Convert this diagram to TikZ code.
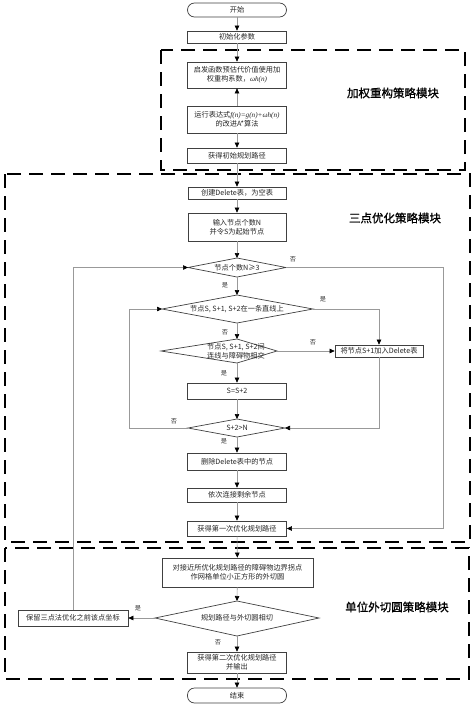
\documentclass[tikz,border=0pt]{standalone}
\usepackage{fontspec}
\setmainfont{Noto Sans CJK SC}
\newfontfamily\lserif{Liberation Serif}
\newfontfamily\modfont[FakeBold=1]{Noto Sans CJK SC}
\usetikzlibrary{arrows.meta}
\begin{document}
\begin{tikzpicture}[x=1pt,y=-1pt,
  box/.style={draw=black!75, line width=0.7pt, fill=white, text=black!85,
    font=\fontsize{7.2}{9}\selectfont, inner sep=0pt, align=center},
  term/.style={box, rounded corners=7pt},
  txt/.style={text=black!85, font=\fontsize{7.2}{9}\selectfont, inner sep=0pt, align=center},
  con/.style={draw=black!40, line width=0.6pt},
  arr/.style={con, -{Triangle[length=5pt,width=4.5pt,color=black]}},
  module/.style={draw=black, line width=2.4pt, dash pattern=on 14pt off 8pt},
  modlabel/.style={font=\modfont\fontsize{11.5}{13}\selectfont, text=black, inner sep=0pt},
  yn/.style={font=\fontsize{6.2}{7}\selectfont, text=black!80, inner sep=0pt},
  dia/.style={draw=black!75, line width=0.7pt, fill=white}
]
\useasboundingbox (0,0) rectangle (474,707);

% module frames
\draw[module] (161,50) rectangle (465,170);
\draw[module] (5,174) rectangle (470,542);
\draw[module] (5,548) rectangle (469,679);
\node[modlabel] (lab1) at (393,93) {加权重构策略模块};
\node[modlabel] (lab2) at (395,218) {三点优化策略模块};
\node[modlabel] (lab3) at (397,607) {单位外切圆策略模块};

% diamond vertices
\coordinate (d1l) at (188,267.5); \coordinate (d1t) at (237,258); \coordinate (d1r) at (286,267.5); \coordinate (d1b) at (237,277);
\coordinate (d2l) at (162,309); \coordinate (d2t) at (237,295); \coordinate (d2r) at (313,309); \coordinate (d2b) at (237,323);
\coordinate (d3l) at (161,351); \coordinate (d3t) at (237,339); \coordinate (d3r) at (277,351); \coordinate (d3b) at (237,363);
\coordinate (d4l) at (188,428); \coordinate (d4t) at (237,419); \coordinate (d4r) at (285,428); \coordinate (d4b) at (237,437);
\coordinate (d5l) at (155,618); \coordinate (d5t) at (237,601); \coordinate (d5r) at (319,618); \coordinate (d5b) at (237,636);

% nodes
\node[term, minimum width=99pt, minimum height=14pt] (start) at (237,10) {开始};
\node[box, minimum width=99pt, minimum height=12pt] (init) at (237,37) {初始化参数};
\node[box, minimum width=99pt, minimum height=26pt] (b1) at (237,75) {启发函数预估代价值使用加\\权重构系数，{\lserif\itshape ωh(n)}};
\node[box, minimum width=99pt, minimum height=27pt] (b2) at (237,119.5) {运行表达式{\lserif\itshape f(n)=g(n)+ωh(n)}\\的改进A*算法};
\node[box, minimum width=99pt, minimum height=15pt] (b3) at (237,155.5) {获得初始规划路径};

\node[box, minimum width=98pt, minimum height=12pt] (c1) at (237,193) {创建Delete表，为空表};
\node[box, minimum width=98pt, minimum height=28pt] (c2) at (237,227) {输入节点个数N\\并令S为起始节点};

\draw[dia] (d1l) -- (d1t) -- (d1r) -- (d1b) -- cycle;
\node[txt] (d1) at (237,267.5) {节点个数N≥3};
\draw[dia] (d2l) -- (d2t) -- (d2r) -- (d2b) -- cycle;
\node[txt] (d2) at (237,309) {节点S, S+1, S+2在一条直线上};
\draw[dia] (d3l) -- (d3t) -- (d3r) -- (d3b) -- cycle;
\node[txt] (d3) at (236,351) {节点S, S+1, S+2间\\连线与障碍物相交};

\node[box, minimum width=88pt, minimum height=12pt] (cdel) at (379,351) {将节点S+1加入Delete表};
\node[box, minimum width=99pt, minimum height=16pt] (c3) at (237,391) {S=S+2};
\draw[dia] (d4l) -- (d4t) -- (d4r) -- (d4b) -- cycle;
\node[txt] (d4) at (237,428) {S+2>N};
\node[box, minimum width=99pt, minimum height=17pt] (c4) at (237,461.5) {删除Delete表中的节点};
\node[box, minimum width=99pt, minimum height=14pt] (c5) at (237,495) {依次连接剩余节点};
\node[box, minimum width=99pt, minimum height=15pt] (c6) at (237,528.5) {获得第一次优化规划路径};

\node[box, minimum width=151pt, minimum height=29pt] (e1) at (237.5,572.5) {对接近所优化规划路径的障碍物边界拐点\\作网格单位小正方形的外切圆};
\draw[dia] (d5l) -- (d5t) -- (d5r) -- (d5b) -- cycle;
\node[txt] (d5) at (237,618) {规划路径与外切圆相切};
\node[box, minimum width=110pt, minimum height=16pt] (e2) at (73,618) {保留三点法优化之前该点坐标};
\node[box, minimum width=99pt, minimum height=21pt] (e3) at (237,662.5) {获得第二次优化规划路径\\并输出};
\node[term, minimum width=99pt, minimum height=15pt] (end) at (237,695.5) {结束};

% connectors
\draw[arr] (start) -- (init);
\draw[arr] (init) -- (b1);
\draw[arr] (b2) -- (b1);
\draw[arr] (b2) -- (b3);
\draw[arr] (b3) -- (c1);
\draw[arr] (c1) -- (c2);
\draw[arr] (c2) -- (d1t);
\draw[arr] (d1b) -- (d2t);
\draw[arr] (d2b) -- (d3t);
\draw[arr] (d3b) -- (c3);
\draw[arr] (c3) -- (d4t);
\draw[arr] (d4b) -- (c4);
\draw[arr] (c4) -- (c5);
\draw[arr] (c5) -- (c6);
\draw[arr] (c6) -- (e1);
\draw[arr] (e1) -- (d5t);
\draw[arr] (d5b) -- (e3);
\draw[arr] (e3) -- (end);

\draw[arr] (d1r) -- ++(157,0) |- (c6.east);
\draw[arr] (d2r) -| (cdel.north);
\draw[arr] (d3r) -- (cdel.west);
\draw[arr] (cdel.south) |- (d4r);
\draw[arr] (d4l) -- ++(-59,0) |- (d2l);
\draw[arr] (d5l) -- (e2.east);
\draw[arr] (e2.north) |- (d1l);

% yes / no labels
\node[yn] (n1) at (293,259) {否};
\node[yn] (y1) at (225,285) {是};
\node[yn] (y2) at (323,299) {是};
\node[yn] (n2) at (225,332) {否};
\node[yn] (n3) at (313,342) {否};
\node[yn] (y3) at (224,373) {是};
\node[yn] (n4) at (174,421) {否};
\node[yn] (y4) at (224,441) {是};
\node[yn] (y5) at (138,608) {是};
\node[yn] (n5) at (218,642) {否};
\end{tikzpicture}
\end{document}
